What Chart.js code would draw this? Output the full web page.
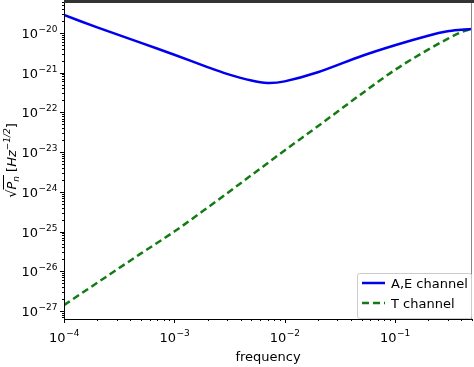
<!DOCTYPE html>
<html>
<head>
<meta charset="utf-8">
<script src="https://cdn.jsdelivr.net/npm/chart.js@4.4.1/dist/chart.umd.min.js"></script>
<style>
html, body { margin: 0; padding: 0; background: #fff; }
</style>
</head>
<body>
<canvas id="myChart" width="474" height="367"></canvas>
<script>
// values
const freqs = [1e-4, 2e-4, 5e-4, 1e-3, 2e-3, 3e-3, 5e-3, 7e-3, 1e-2, 2e-2, 5e-2, 0.1, 0.2, 0.3, 0.4, 0.5];
const aeChannel = [2.82e-20, 1.38e-20, 5.62e-21, 2.82e-21, 1.38e-21, 9.33e-22, 6.31e-22, 5.50e-22,
                   6.03e-22, 1.02e-21, 2.63e-21, 4.90e-21, 8.51e-21, 1.10e-20, 1.20e-20, 1.26e-20];
const tChannel = [1.41e-27, 5.13e-27, 2.82e-26, 1.0e-25, 3.98e-25, 9.12e-25, 2.63e-24, 5.25e-24,
                  1.10e-23, 4.47e-23, 2.95e-22, 1.17e-21, 3.80e-21, 7.08e-21, 1.05e-20, 1.26e-20];
const seriesNames = ['A,E channel', 'T channel'];
const xTickExps = [-4, -3, -2, -1];
const yTickExps = [-20, -21, -22, -23, -24, -25, -26, -27];
const xLabel = 'frequency';

const FONT = '"DejaVu Sans", sans-serif';

function pts(ys) {
    return freqs.map((f, i) => ({ x: f, y: ys[i] }));
}

function drawPow(ctx, exp, x, y, align) {
    const base = '10';
    const sup = '\u2212' + Math.abs(exp);
    ctx.font = '13px ' + FONT;
    const w1 = ctx.measureText(base).width;
    ctx.font = '9px ' + FONT;
    const w2 = ctx.measureText(sup).width;
    let sx = x;
    if (align == 'center') sx = x - (w1 + w2) / 2;
    if (align == 'right') sx = x - (w1 + w2);
    ctx.textAlign = 'left';
    ctx.textBaseline = 'alphabetic';
    ctx.font = '13px ' + FONT;
    ctx.fillText(base, sx, y);
    ctx.font = '9px ' + FONT;
    ctx.fillText(sup, sx + w1 + 0.5, y - 6);
}

const axesPlugin = {
    id: 'axesPlugin',
    afterDraw(chart) {
        const ctx = chart.ctx;
        const a = chart.chartArea;
        const xs = chart.scales.x;
        const ys = chart.scales.y;
        ctx.save();
        ctx.fillStyle = '#000';
        ctx.strokeStyle = '#000';

        // frame
        ctx.lineWidth = 1;
        ctx.beginPath();
        ctx.moveTo(a.left + 0.5, a.top);
        ctx.lineTo(a.left + 0.5, a.bottom + 0.5);
        ctx.lineTo(a.right, a.bottom + 0.5);
        ctx.stroke();
        ctx.strokeStyle = '#888';
        ctx.beginPath();
        ctx.moveTo(a.right - 0.5, a.top);
        ctx.lineTo(a.right - 0.5, a.bottom);
        ctx.stroke();
        ctx.strokeStyle = '#333';
        ctx.lineWidth = 3;
        ctx.beginPath();
        ctx.moveTo(a.left, 1.5);
        ctx.lineTo(chart.width, 1.5);
        ctx.stroke();

        // x ticks
        ctx.strokeStyle = '#000';
        ctx.lineWidth = 1;
        for (let e = -4; e <= -1; e++) {
            for (let m = 1; m <= 9; m++) {
                const v = m * Math.pow(10, e);
                if (v > xs.max * 1.0001) continue;
                const px = Math.round(xs.getPixelForValue(v)) + 0.5;
                const len = m == 1 ? 4 : 2;
                ctx.beginPath();
                ctx.moveTo(px, a.bottom);
                ctx.lineTo(px, a.bottom + len);
                ctx.stroke();
            }
        }
        // y ticks
        for (let e = -28; e <= -20; e++) {
            for (let m = 1; m <= 9; m++) {
                const v = m * Math.pow(10, e);
                if (v < ys.min || v > ys.max) continue;
                const py = Math.round(ys.getPixelForValue(v)) + 0.5;
                const len = m == 1 ? 4 : 2;
                ctx.beginPath();
                ctx.moveTo(a.left, py);
                ctx.lineTo(a.left - len, py);
                ctx.stroke();
            }
        }

        xTickExps.forEach(e => {
            drawPow(ctx, e, xs.getPixelForValue(Math.pow(10, e)), a.bottom + 23, 'center');
        });
        yTickExps.forEach(e => {
            drawPow(ctx, e, a.left - 7, ys.getPixelForValue(Math.pow(10, e)) + 5, 'right');
        });

        // x title
        ctx.font = '13px ' + FONT;
        ctx.textAlign = 'center';
        ctx.fillText(xLabel, (a.left + a.right) / 2, 361);

        // y title: sqrt(P_n) [Hz^-1/2]
        ctx.save();
        ctx.translate(11, (a.top + a.bottom) / 2);
        ctx.rotate(-Math.PI / 2);
        const parts = [
            { t: '\u221A', f: '13px ' + FONT, dy: 0 },
            { t: 'P', f: 'italic 13px ' + FONT, dy: 0, bar: true },
            { t: 'n', f: 'italic 9px ' + FONT, dy: 3, bar: true },
            { t: ' [', f: '13px ' + FONT, dy: 0 },
            { t: 'Hz', f: 'italic 13px ' + FONT, dy: 0 },
            { t: '\u22121/2', f: 'italic 9px ' + FONT, dy: -6 },
            { t: ']', f: '13px ' + FONT, dy: 0 }
        ];
        let total = 0;
        parts.forEach(p => { ctx.font = p.f; p.w = ctx.measureText(p.t).width; total += p.w; });
        let cx = -total / 2;
        ctx.textAlign = 'left';
        ctx.lineWidth = 1;
        parts.forEach(p => {
            ctx.font = p.f;
            ctx.fillText(p.t, cx, 5 + p.dy);
            if (p.bar) {
                ctx.beginPath();
                ctx.moveTo(cx, -7.5);
                ctx.lineTo(cx + p.w + 1, -7.5);
                ctx.stroke();
            }
            cx += p.w;
        });
        ctx.restore();

        // legend
        const lx = 357, ly = 273, lw = 114, lh = 45;
        ctx.fillStyle = 'rgba(255,255,255,0.85)';
        ctx.strokeStyle = '#cccccc';
        ctx.lineWidth = 1;
        ctx.beginPath();
        ctx.roundRect(lx + 0.5, ly + 0.5, lw, lh, 2);
        ctx.fill();
        ctx.stroke();
        chart.data.datasets.forEach((ds, i) => {
            const yy = 283 + i * 20;
            ctx.strokeStyle = ds.borderColor;
            ctx.lineWidth = ds.borderWidth;
            ctx.setLineDash(ds.borderDash || []);
            ctx.beginPath();
            ctx.moveTo(362, yy);
            ctx.lineTo(385, yy);
            ctx.stroke();
            ctx.setLineDash([]);
            ctx.fillStyle = '#000';
            ctx.font = '13px ' + FONT;
            ctx.textAlign = 'left';
            ctx.fillText(ds.label, 391, yy + 5);
        });
        ctx.restore();
    }
};

var ctx = document.getElementById('myChart').getContext('2d');
var myChart = new Chart(ctx, {
    type: 'line',
    data: {
        datasets: [{
            label: seriesNames[0],
            data: pts(aeChannel),
            borderColor: '#0000ee',
            borderWidth: 2.5,
            pointRadius: 0,
            tension: 0.3,
            fill: false
        }, {
            label: seriesNames[1],
            data: pts(tChannel),
            borderColor: '#127c12',
            borderWidth: 2.5,
            borderDash: [7, 4],
            pointRadius: 0,
            cubicInterpolationMode: 'monotone',
            fill: false
        }]
    },
    options: {
        responsive: false,
        animation: false,
        layout: { padding: { left: 64, right: 2, top: 2, bottom: 48 } },
        plugins: { legend: { display: false }, tooltip: { enabled: false } },
        scales: {
            x: { type: 'logarithmic', min: 1e-4, max: 0.5, display: false },
            y: { type: 'logarithmic', min: 6.3e-28, max: 6e-20, display: false }
        }
    },
    plugins: [axesPlugin]
});
</script>
</body>
</html>
